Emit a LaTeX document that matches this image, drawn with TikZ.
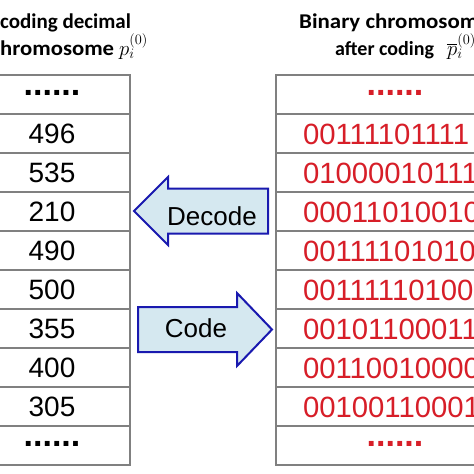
\documentclass[tikz,border=0pt]{standalone}
\usepackage{fontspec}
\usepackage{graphicx}
\setmainfont{Liberation Sans}
\newfontfamily\hdfont{Carlito}
\definecolor{grid}{RGB}{128,128,128}
\definecolor{bits}{RGB}{215,30,40}
\definecolor{arrfill}{RGB}{213,232,240}
\definecolor{arrline}{RGB}{25,25,175}
\begin{document}
\begin{tikzpicture}[x=1pt,y=-1pt,
  tline/.style={draw=grid,line width=2pt},
  num/.style={anchor=base,inner sep=0pt,font=\fontsize{28}{28}\selectfont},
  bin/.style={anchor=base west,inner sep=0pt,text=bits,font=\fontsize{29.3}{29.3}\selectfont},
  dots/.style={anchor=base,inner sep=0pt,text height=5pt,text depth=0pt,font=\fontsize{34}{20}\selectfont\bfseries},
  hd/.style={anchor=base west,inner sep=0pt,font=\fontsize{21}{21}\selectfont\hdfont\bfseries},
  mth/.style={anchor=base west,inner sep=0pt,font=\fontsize{20}{20}\selectfont},
  arr/.style={draw=arrline,fill=arrfill,line width=2pt,line join=miter},
  word/.style={anchor=base,inner sep=0pt,font=\fontsize{26}{26}\selectfont}]
\useasboundingbox (0,0) rectangle (474,474);
\clip (0,0) rectangle (474,474);
\fill[white] (0,0) rectangle (474,474);
% tables
\foreach \k in {0,...,10}{
  \draw[tline] (-30,{75+39*\k}) -- (130,{75+39*\k});
  \draw[tline] (276,{75+39*\k}) -- (520,{75+39*\k});
}
\draw[tline] (130,74) -- (130,466);
\draw[tline] (276,74) -- (276,466);
% headers
\node[hd] (h1) at (0,28) {coding decimal};
\node[hd] (h2) at (0,55) {\scalebox{1.08}[1]{hromosome}};
\node[mth] (m1) at (119,55) {$p_i^{(0)}$};
\node[hd] (h3) at (299,28) {\scalebox{1.09}[1]{Binary chromosom}};
\node[hd,font=\fontsize{20}{20}\selectfont\hdfont\bfseries] (h4) at (335,55) {after coding};
\node[mth] (m2) at (447,55) {$\overline{p}_i^{(0)}$};
% left column
\node[dots] (d1) at (52,95) {......};
\foreach \v [count=\i] in {496,535,210,490,500,355,400,305}{
  \node[num] (n\i) at (52,{94.5+39*\i+10}) {\v};
}
\node[dots] (d2) at (52,446) {......};
% right column
\node[dots,text=bits] (d3) at (395,95) {......};
\foreach \v [count=\i] in {00111101111,01000010111,00011010010,00111101010,00111110100,00101100011,00110010000,00100110001}{
  \node[bin] (b\i) at (302.8,{94.5+39*\i+10.5}) {\v};
}
\node[dots,text=bits] (d4) at (395,446) {......};
% arrows
\draw[arr] (268,188.5) -- (168,188.5) -- (168,177) -- (134,211) -- (168,245) -- (168,233.5) -- (268,233.5) -- cycle;
\node[word] (dec) at (212,225) {Decode};
\draw[arr] (138,307) -- (237,307) -- (237,293) -- (272,329.5) -- (237,366) -- (237,352) -- (138,352) -- cycle;
\node[word] (cod) at (196,337) {Code};
\end{tikzpicture}
\end{document}
